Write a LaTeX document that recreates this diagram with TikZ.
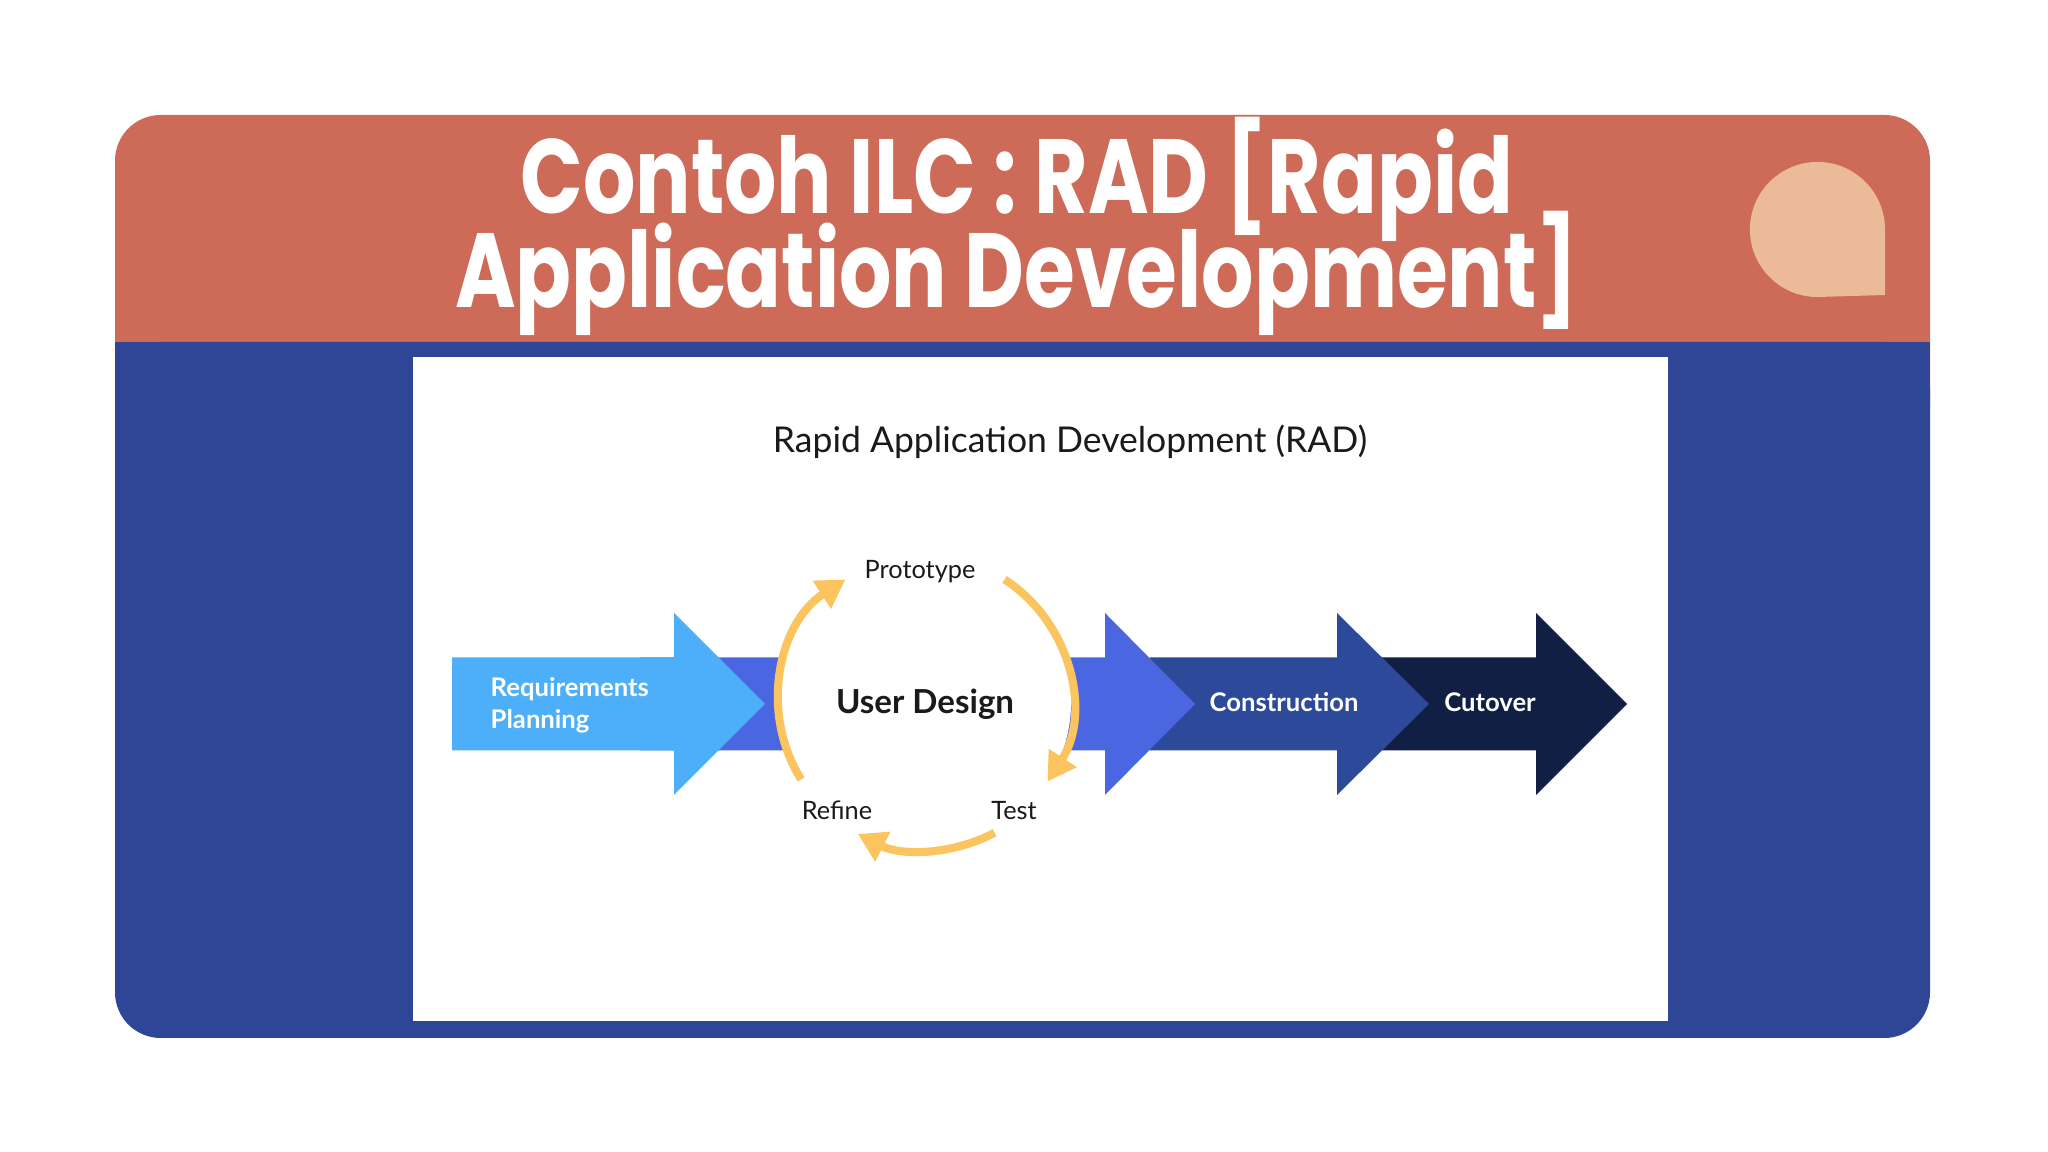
\documentclass[tikz,border=0pt]{standalone}
\usepackage{fontspec}
\setmainfont{Lato}
\newfontfamily\titlefont{Poppins}[FakeStretch=0.78]
\newcommand\tightlines{\lineskiplimit-40pt\lineskip0pt\relax}
\usetikzlibrary{arrows.meta}
\definecolor{radRed}{HTML}{CD6B58}
\definecolor{radPeach}{HTML}{EBBA98}
\definecolor{radNavy}{HTML}{2F4596}
\definecolor{radSky}{HTML}{4DAFF9}
\definecolor{radRoyal}{HTML}{4A66E0}
\definecolor{radCobalt}{HTML}{2D4A9A}
\definecolor{radMidnight}{HTML}{121F45}
\definecolor{radGold}{HTML}{FBC45E}
\definecolor{radInk}{HTML}{1A1A1A}
\tikzset{
  htitle/.style ={font=\titlefont\bfseries\fontsize{30}{26.7}\selectfont\tightlines,
                  text=white,align=center,inner sep=0pt},
  dtitle/.style ={font=\fontsize{10.1}{11}\selectfont,text=radInk,anchor=base,inner sep=0pt},
  lbl/.style    ={font=\fontsize{7.2}{8}\selectfont,text=radInk,anchor=base,inner sep=0pt},
  hub/.style    ={font=\fontsize{9.4}{10}\selectfont\bfseries,text=radInk,anchor=base,inner sep=0pt},
  albl/.style   ={font=\fontsize{7.3}{8}\selectfont\bfseries,text=white,anchor=base,inner sep=0pt},
  cyc/.style    ={radGold,line width=2.3pt,-{Triangle[length=8pt,width=9pt]}},
}

\begin{document}
\begin{tikzpicture}[x=0.01cm,y=0.01cm]
\useasboundingbox (0,0) rectangle (2048,1152);
\fill[white] (0,0) rectangle (2048,1152);

%% card
\fill[radRed,rounded corners=13pt] (115,700) rectangle (1930,1037);
\fill[radNavy,rounded corners=13pt] (115,114) rectangle (1930,810);
\fill[radNavy] (115,700) rectangle (1930,810);
\fill[radPeach] (1885,857) -- (1885,922.5) arc[start angle=0,end angle=180,radius=0.675cm]
  arc[start angle=180,end angle=270,radius=0.675cm] -- cycle;

\node[htitle] (title) at (1017,926) {Contoh ILC : RAD [Rapid\\Application Development]};

%% screenshot panel
\fill[white] (413,131) rectangle (1668,795);
\node[dtitle] (rad) at (1070,699) {Rapid Application Development (RAD)};

%% phase arrows, back to front
\fill[radMidnight] (1380,401.5) -- (1536,401.5) -- (1536,357) -- (1627,448) -- (1536,539) -- (1536,494.5) -- (1380,494.5) -- cycle;
\fill[radCobalt] (1150,401.5) -- (1337,401.5) -- (1337,357) -- (1429,448) -- (1337,539) -- (1337,494.5) -- (1150,494.5) -- cycle;
\fill[radRoyal] (640,401.5) -- (1105,401.5) -- (1105,357) -- (1195,448) -- (1105,539) -- (1105,494.5) -- (640,494.5) -- cycle;
\fill[radSky] (452,401.5) -- (674,401.5) -- (674,357) -- (765,448) -- (674,539) -- (674,494.5) -- (452,494.5) -- cycle;

%% user design cycle
\coordinate (c) at (925,450);
\fill[white] (c) circle[radius=1.46cm];
\draw[cyc] ([shift={(212:1.46cm)}]c) arc[start angle=212,end angle=123,radius=1.46cm];
\draw[cyc] ([shift={(57:1.46cm)}]c) arc[start angle=57,end angle=-33,radius=1.46cm];
\draw[cyc] ([shift={(-62:1.48cm)}]c) arc[start angle=-62,end angle=-117,radius=1.48cm];

\node[hub] (ud) at (925,438) {User Design};
\node[lbl] (proto) at (920,573) {Prototype};
\node[lbl] (refine) at (837,332) {Refine};
\node[lbl] (test) at (1014,332) {Test};

\node[albl,anchor=base west] (req) at (490,455) {Requirements};
\node[albl,anchor=base west] (plan) at (490,423) {Planning};
\node[albl] (cons) at (1284,440) {Construction};
\node[albl] (cut) at (1490,440) {Cutover};
\end{tikzpicture}
\end{document}
